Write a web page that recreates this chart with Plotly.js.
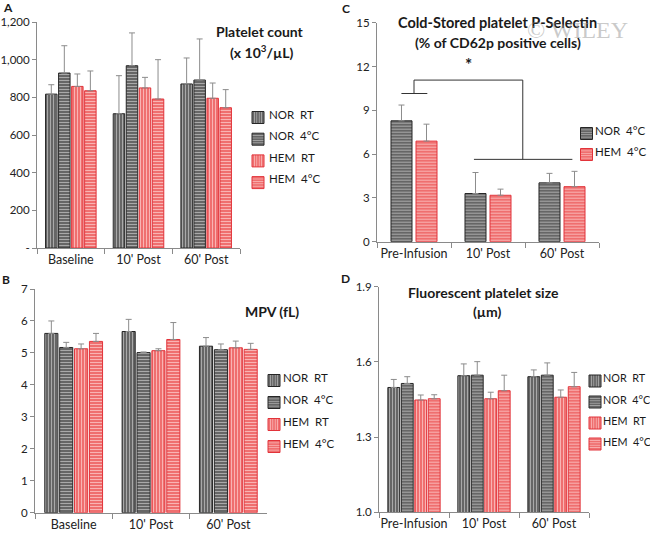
<!DOCTYPE html>
<html>
<head>
<meta charset="utf-8">
<script src="https://cdn.plot.ly/plotly-3.0.1.min.js"></script>
<style>html,body{margin:0;padding:0;background:#fff;}#chart{width:650px;height:536px;}</style>
</head>
<body>
<div id="chart"></div>
<script>
// ---------- DATA ----------
const catsAB = ['Baseline', "10' Post", "60' Post"];
const catsCD = ['Pre-Infusion', "10' Post", "60' Post"];
const seriesNames4 = ['NOR\u00a0\u00a0RT', 'NOR\u00a0\u00a04°C', 'HEM\u00a0\u00a0RT', 'HEM\u00a0\u00a04°C'];
const seriesNames2 = ['NOR\u00a0\u00a04°C', 'HEM\u00a0\u00a04°C'];

// Panel A: Platelet count (x10^3/uL) — means and top of error bar
const countNorRT = [817, 713, 871];
const countNorRTTop = [867, 915, 1009];
const countNor4C = [929, 968, 892];
const countNor4CTop = [1074, 1142, 1110];
const countHemRT = [858, 850, 795];
const countHemRTTop = [924, 906, 876];
const countHem4C = [835, 791, 745];
const countHem4CTop = [940, 1000, 841];
const countTickVals = [0, 200, 400, 600, 800, 1000, 1200];
const countTickText = ['-', '200', '400', '600', '800', '1,000', '1,200'];

// Panel B: MPV (fL)
const mpvNorRT = [5.61, 5.67, 5.21];
const mpvNorRTTop = [6.0, 6.05, 5.48];
const mpvNor4C = [5.17, 5.01, 5.10];
const mpvNor4CTop = [5.33, 5.03, 5.28];
const mpvHemRT = [5.13, 5.07, 5.16];
const mpvHemRTTop = [5.28, 5.13, 5.37];
const mpvHem4C = [5.36, 5.42, 5.11];
const mpvHem4CTop = [5.61, 5.95, 5.30];

// Panel C: P-Selectin (% CD62p positive)
const pselNor4C = [8.28, 3.30, 4.03];
const pselNor4CTop = [9.36, 4.74, 4.68];
const pselHem4C = [6.89, 3.18, 3.77];
const pselHem4CTop = [8.05, 3.60, 4.82];

// Panel D: Fluorescent platelet size (um)
const sizeNorRT = [1.498, 1.545, 1.541];
const sizeNorRTTop = [1.530, 1.592, 1.568];
const sizeNor4C = [1.514, 1.547, 1.547];
const sizeNor4CTop = [1.541, 1.601, 1.596];
const sizeHemRT = [1.448, 1.453, 1.459];
const sizeHemRTTop = [1.468, 1.479, 1.488];
const sizeHem4C = [1.453, 1.485, 1.501];
const sizeHem4CTop = [1.469, 1.547, 1.558];
const sizeTickVals = [1.0, 1.3, 1.6, 1.9];
const sizeTickText = ['1.0', '1.3', '1.6', '1.9'];

// ---------- STYLE ----------
const FONT = 'Lato, "Open Sans", "Liberation Sans", sans-serif';
const W = 650, H = 536;
const styles = {
  norRT: {color: '#666666', fg: '#a9a9a9', line: '#262626', shape: '|'},
  nor4C: {color: '#666666', fg: '#a9a9a9', line: '#262626', shape: '-'},
  hemRT: {color: '#ef6f6f', fg: '#f9b3b3', line: '#e2333a', shape: '|'},
  hem4C: {color: '#ef6f6f', fg: '#f9b3b3', line: '#e2333a', shape: '-'}
};

// Legend swatches are drawn by Plotly's legend; the labels are placed right beside them
function barTrace(name, x, y, top, st, xa, ya, leg, grp, extra) {
  const t = {
    type: 'bar', name: '', x: x, y: y, xaxis: xa, yaxis: ya,
    legend: leg, legendgroup: grp,
    marker: {
      color: st.color,
      line: {color: st.line, width: 1},
      pattern: {shape: st.shape, fgcolor: st.fg, bgcolor: st.color, fillmode: 'replace', size: 3, solidity: 0.35}
    },
    error_y: {
      type: 'data', symmetric: false,
      array: top.map((v, i) => v - y[i]),
      arrayminus: y.map(() => 0),
      color: '#8c8c8c', thickness: 1, width: 3
    },
    hovertemplate: name + ': %{y}<extra></extra>'
  };
  return Object.assign(t, extra || {});
}

const traces = [
  barTrace(seriesNames4[0], catsAB, countNorRT, countNorRTTop, styles.norRT, 'x', 'y', 'legend', 'a1'),
  barTrace(seriesNames4[1], catsAB, countNor4C, countNor4CTop, styles.nor4C, 'x', 'y', 'legend', 'a2'),
  barTrace(seriesNames4[2], catsAB, countHemRT, countHemRTTop, styles.hemRT, 'x', 'y', 'legend', 'a3'),
  barTrace(seriesNames4[3], catsAB, countHem4C, countHem4CTop, styles.hem4C, 'x', 'y', 'legend', 'a4'),

  barTrace(seriesNames4[0], catsAB, mpvNorRT, mpvNorRTTop, styles.norRT, 'x2', 'y2', 'legend2', 'b1'),
  barTrace(seriesNames4[1], catsAB, mpvNor4C, mpvNor4CTop, styles.nor4C, 'x2', 'y2', 'legend2', 'b2'),
  barTrace(seriesNames4[2], catsAB, mpvHemRT, mpvHemRTTop, styles.hemRT, 'x2', 'y2', 'legend2', 'b3'),
  barTrace(seriesNames4[3], catsAB, mpvHem4C, mpvHem4CTop, styles.hem4C, 'x2', 'y2', 'legend2', 'b4'),

  barTrace(seriesNames2[0], catsCD, pselNor4C, pselNor4CTop, styles.nor4C, 'x3', 'y3', 'legend3', 'c1', {width: 0.284, offset: -0.311}),
  barTrace(seriesNames2[1], catsCD, pselHem4C, pselHem4CTop, styles.hem4C, 'x3', 'y3', 'legend3', 'c2', {width: 0.284, offset: 0.027}),

  barTrace(seriesNames4[0], catsCD, sizeNorRT, sizeNorRTTop, styles.norRT, 'x4', 'y4', 'legend4', 'd1'),
  barTrace(seriesNames4[1], catsCD, sizeNor4C, sizeNor4CTop, styles.nor4C, 'x4', 'y4', 'legend4', 'd2'),
  barTrace(seriesNames4[2], catsCD, sizeHemRT, sizeHemRTTop, styles.hemRT, 'x4', 'y4', 'legend4', 'd3'),
  barTrace(seriesNames4[3], catsCD, sizeHem4C, sizeHem4CTop, styles.hem4C, 'x4', 'y4', 'legend4', 'd4')
];

const px = v => v / W;
const py = v => 1 - v / H;

function xAxis(x0, x1, anchor) {
  return {
    domain: [px(x0), px(x1)], anchor: anchor, type: 'category',
    showline: true, linecolor: '#8a8a8a', linewidth: 1,
    ticks: 'outside', tickson: 'boundaries', ticklen: 5, tickcolor: '#8a8a8a',
    showgrid: false, zeroline: false, tickangle: 0, automargin: false,
    tickfont: {family: FONT, size: 12.5, color: '#222'}, fixedrange: true
  };
}
function yAxis(top, bottom, anchor, range, extra) {
  return Object.assign({
    domain: [py(bottom), py(top)], anchor: anchor, range: range,
    showline: true, linecolor: '#8a8a8a', linewidth: 1,
    ticks: 'outside', ticklen: 4, tickcolor: '#8a8a8a',
    showgrid: false, zeroline: false, automargin: false,
    tickfont: {family: FONT, size: 11.5, color: '#222'}, fixedrange: true
  }, extra || {});
}
// legend placed so that the swatch centre falls at (swatchX, firstRowY)
function legendAt(swatchX, firstRowY, gap) {
  return {
    x: px(swatchX - 20), y: py(firstRowY - 11), xanchor: 'left', yanchor: 'top',
    bgcolor: 'rgba(0,0,0,0)', borderwidth: 0, tracegroupgap: gap,
    font: {family: FONT, size: 11, color: '#222'}, itemclick: false, itemdoubleclick: false
  };
}
function ann(text, x, y, size, extra) {
  return Object.assign({
    text: text, xref: 'paper', yref: 'paper', x: px(x), y: py(y),
    xanchor: 'center', yanchor: 'middle', showarrow: false,
    font: {family: FONT, size: size, color: '#1a1a1a'}
  }, extra || {});
}
function legendLabels(names, x, rows, size) {
  return names.map((n, i) => ({
    text: n, xref: 'paper', yref: 'paper', x: px(x), y: py(rows[i]),
    xanchor: 'left', yanchor: 'middle', showarrow: false,
    font: {family: FONT, size: size, color: '#1a1a1a'}
  }));
}

const lineStyle = {color: '#333', width: 1};
const shapes = [
  {type: 'line', xref: 'x3', yref: 'y3', x0: 0, x1: 1.47, y0: 11.07, y1: 11.07, line: lineStyle},
  {type: 'line', xref: 'x3', yref: 'y3', x0: 0, x1: 0, y0: 11.07, y1: 10.15, line: lineStyle},
  {type: 'line', xref: 'x3', yref: 'y3', x0: -0.17, x1: 0.18, y0: 10.15, y1: 10.15, line: lineStyle},
  {type: 'line', xref: 'x3', yref: 'y3', x0: 1.47, x1: 1.47, y0: 11.07, y1: 5.64, line: lineStyle},
  {type: 'line', xref: 'x3', yref: 'y3', x0: 0.81, x1: 2.14, y0: 5.64, y1: 5.64, line: lineStyle}
];

const rowsA = [114, 135.5, 157, 179];
const rowsB = [377, 399, 421, 443];
const rowsC = [130, 151];
const rowsD = [377.5, 399, 420, 441];

const annotations = [
  ann('<b>A</b>', 8, 7, 12),
  ann('<b>B</b>', 6, 279, 12),
  ann('<b>C</b>', 346, 8, 12),
  ann('<b>D</b>', 346, 278, 12),
  ann('<b>Platelet count</b>', 260, 32, 14),
  ann('<b>(x 10<sup>3</sup>/µL)</b>', 262, 51, 14),
  ann('<b>MPV (fL)</b>', 272, 311, 14),
  ann('<b>Cold-Stored platelet P-Selectin</b>', 497.5, 23, 14.5),
  ann('<b>(% of CD62p positive cells)</b>', 498, 43, 14),
  ann('<b>Fluorescent platelet size</b>', 483, 292, 14),
  ann('<b>(µm)</b>', 487, 311, 14),
  ann('© WILEY', 577, 30, 24, {font: {family: '"Liberation Serif", "DejaVu Serif", serif', size: 24, color: 'rgba(150,150,150,0.5)'}}),
  {text: '<b>*</b>', xref: 'x3', yref: 'y3', x: 0.73, y: 11.25, xanchor: 'center', yanchor: 'bottom',
   showarrow: false, font: {family: FONT, size: 17, color: '#1a1a1a'}}
].concat(
  legendLabels(seriesNames4, 266.5, rowsA, 11.5),
  legendLabels(seriesNames4, 281, rowsB, 11.5),
  legendLabels(seriesNames2, 593, rowsC, 11.5),
  legendLabels(seriesNames4, 601, rowsD, 10.8)
);

const layout = {
  width: W, height: H,
  margin: {l: 0, r: 0, t: 0, b: 0},
  paper_bgcolor: '#fff', plot_bgcolor: 'rgba(0,0,0,0)',
  barmode: 'group', bargap: 0.23, bargroupgap: 0.12,
  showlegend: true,
  font: {family: FONT, color: '#222'},
  xaxis: xAxis(37, 240, 'y'),
  yaxis: yAxis(22, 248, 'x', [0, 1200], {tickvals: countTickVals, ticktext: countTickText}),
  xaxis2: xAxis(35, 267, 'y2'),
  yaxis2: yAxis(289, 512.7, 'x2', [0, 7], {dtick: 1, tick0: 0}),
  xaxis3: xAxis(377, 599, 'y3'),
  yaxis3: yAxis(22.7, 241.7, 'x3', [0, 15], {dtick: 3, tick0: 0}),
  xaxis4: xAxis(379, 589, 'y4'),
  yaxis4: yAxis(286.7, 512.3, 'x4', [1.0, 1.9], {tickvals: sizeTickVals, ticktext: sizeTickText}),
  legend: legendAt(258, rowsA[0], 2.7),
  legend2: legendAt(274, rowsB[0], 3),
  legend3: legendAt(586.5, rowsC[0], 2),
  legend4: legendAt(595, rowsD[0], 2),
  shapes: shapes,
  annotations: annotations
};

Plotly.newPlot('chart', traces, layout, {displayModeBar: false, staticPlot: true});
</script>
</body>
</html>
